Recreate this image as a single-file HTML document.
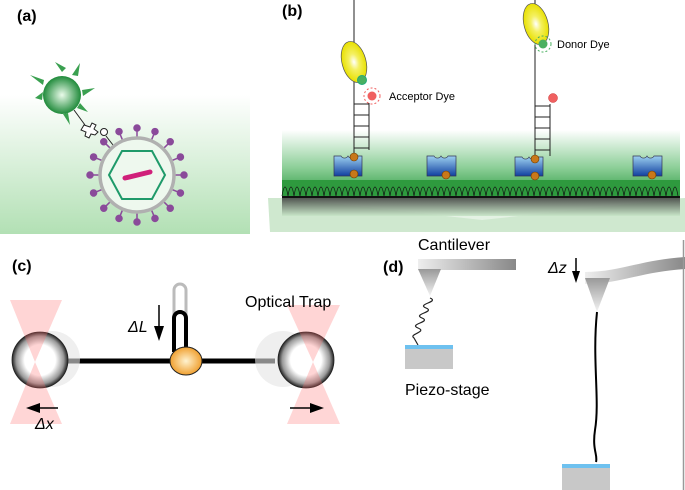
<!DOCTYPE html>
<html><head><meta charset="utf-8"><style>body{margin:0;background:#fff}svg{display:block}text{font-family:"Liberation Sans",sans-serif}</style></head><body>
<svg width="685" height="490" viewBox="0 0 685 490" xmlns="http://www.w3.org/2000/svg">
<defs>
<linearGradient id="ga" x1="0" y1="0" x2="0" y2="1"><stop offset="0" stop-color="#fff"/><stop offset="1" stop-color="#b2e0b4"/></linearGradient>
<linearGradient id="gb" x1="0" y1="0" x2="0" y2="1"><stop offset="0" stop-color="#fff"/><stop offset="0.55" stop-color="#8fd09a"/><stop offset="1" stop-color="#2a9a40"/></linearGradient>
<linearGradient id="gd" x1="0" y1="0" x2="0" y2="1"><stop offset="0" stop-color="#333"/><stop offset="1" stop-color="#c8e6c8"/></linearGradient>
<radialGradient id="sph" cx="0.5" cy="0.5" r="0.5"><stop offset="0" stop-color="#eafbea"/><stop offset="1" stop-color="#1f8a3a"/></radialGradient>
<radialGradient id="yel" cx="0.5" cy="0.5" r="0.5"><stop offset="0" stop-color="#fff"/><stop offset="0.4" stop-color="#f4f060"/><stop offset="1" stop-color="#e8e000"/></radialGradient>
<radialGradient id="bead" cx="0.5" cy="0.5" r="0.5"><stop offset="0.55" stop-color="#fff"/><stop offset="0.85" stop-color="#999"/><stop offset="1" stop-color="#222"/></radialGradient>
<radialGradient id="or" cx="0.5" cy="0.5" r="0.5"><stop offset="0" stop-color="#fff3d0"/><stop offset="1" stop-color="#f0a030"/></radialGradient>
<linearGradient id="blu" x1="0" y1="0" x2="0" y2="1"><stop offset="0" stop-color="#9cd0f0"/><stop offset="1" stop-color="#1040a0"/></linearGradient>
<linearGradient id="bar" x1="0" y1="0" x2="1" y2="0"><stop offset="0" stop-color="#eee"/><stop offset="1" stop-color="#888"/></linearGradient>
<linearGradient id="tip" x1="0" y1="0" x2="0" y2="1"><stop offset="0" stop-color="#999"/><stop offset="1" stop-color="#f4f4f4"/></linearGradient>
</defs>
<!-- (a) -->
<rect x="0" y="95" width="250" height="139" fill="url(#ga)"/>
<text x="17" y="21" font-size="16" font-weight="bold">(a)</text>
<g fill="#3aa050">
<polygon points="55,62 62,72 66,68"/><polygon points="80,63 72,75 78,76"/><polygon points="95,88 82,90 83,96"/><polygon points="88,112 80,103 77,108"/><polygon points="70,125 68,113 63,114"/><polygon points="35,98 43,92 42,100"/><polygon points="30,75 43,85 44,80"/>
</g>
<circle cx="62" cy="95" r="19" fill="url(#sph)"/>
<line x1="74" y1="110" x2="85" y2="125" stroke="#222"/>
<path d="M84,125 l6,2 l2,-4 l4,2 l-2,4 l4,3 l-3,3 l-4,-1 l-2,4 l-4,-2 l1,-4 l-5,-2z" fill="#fff" stroke="#222"/>
<circle cx="104" cy="132" r="3.5" fill="#fff" stroke="#222"/>
<line x1="106" y1="136" x2="113" y2="145" stroke="#222"/>
<g stroke="#8a4a9a" stroke-width="1.5" fill="#8a4a9a">
<g transform="translate(137,175)">
<g id="s1"><line x1="0" y1="-37" x2="0" y2="-45"/><circle cx="0" cy="-47" r="3"/></g>
<use href="#s1" transform="rotate(22.5)"/><use href="#s1" transform="rotate(45)"/><use href="#s1" transform="rotate(67.5)"/><use href="#s1" transform="rotate(90)"/><use href="#s1" transform="rotate(112.5)"/><use href="#s1" transform="rotate(135)"/><use href="#s1" transform="rotate(157.5)"/><use href="#s1" transform="rotate(180)"/><use href="#s1" transform="rotate(202.5)"/><use href="#s1" transform="rotate(225)"/><use href="#s1" transform="rotate(247.5)"/><use href="#s1" transform="rotate(270)"/><use href="#s1" transform="rotate(292.5)"/><use href="#s1" transform="rotate(315)"/><use href="#s1" transform="rotate(337.5)"/>
</g></g>
<circle cx="137" cy="175" r="37" fill="#eef8ee" stroke="#b0b0b0" stroke-width="3.5"/>
<polygon points="109,175 122,151 152,151 165,175 152,199 122,199" fill="none" stroke="#1f9a6a" stroke-width="2"/>
<line x1="125" y1="178" x2="150" y2="172" stroke="#d0207a" stroke-width="5" stroke-linecap="round"/>
<!-- (b) -->
<polygon points="268,198 685,198 685,232 270,232" fill="#cfe8cf"/>
<polygon points="282,198 685,198 482,220" fill="#e4f2e4"/>
<rect x="282" y="130" width="398" height="67" fill="url(#gb)"/>
<rect x="282" y="180" width="398" height="17" fill="#2e9a3e"/>
<rect x="282" y="196" width="398" height="20" fill="url(#gd)" opacity="0.9"/>
<path id="gr" d="M282,196 q3,-18 6,0 q3,-18 6,0 q3,-18 6,0 q3,-18 6,0 q3,-18 6,0 q3,-18 6,0 q3,-18 6,0 q3,-18 6,0 q3,-18 6,0 q3,-18 6,0 q3,-18 6,0 q3,-18 6,0 q3,-18 6,0 q3,-18 6,0 q3,-18 6,0 q3,-18 6,0 q3,-18 6,0 q3,-18 6,0 q3,-18 6,0 q3,-18 6,0 q3,-18 6,0 q3,-18 6,0 q3,-18 6,0 q3,-18 6,0 q3,-18 6,0 q3,-18 6,0 q3,-18 6,0 q3,-18 6,0 q3,-18 6,0 q3,-18 6,0 q3,-18 6,0 q3,-18 6,0 q3,-18 6,0 q3,-18 6,0 q3,-18 6,0 q3,-18 6,0 q3,-18 6,0 q3,-18 6,0 q3,-18 6,0 q3,-18 6,0 q3,-18 6,0 q3,-18 6,0 q3,-18 6,0 q3,-18 6,0 q3,-18 6,0 q3,-18 6,0 q3,-18 6,0 q3,-18 6,0 q3,-18 6,0 q3,-18 6,0 q3,-18 6,0 q3,-18 6,0 q3,-18 6,0 q3,-18 6,0 q3,-18 6,0 q3,-18 6,0 q3,-18 6,0 q3,-18 6,0 q3,-18 6,0 q3,-18 6,0 q3,-18 6,0 q3,-18 6,0 q3,-18 6,0 q3,-18 6,0 q3,-18 6,0 q3,-18 6,0" fill="none" stroke="#111" stroke-width="0.7"/>
<line x1="282" y1="197" x2="680" y2="197" stroke="#111" stroke-width="2"/>
<text x="282" y="16" font-size="16" font-weight="bold">(b)</text>
<line x1="354" y1="0" x2="354" y2="155" stroke="#222"/>
<line x1="535" y1="0" x2="535" y2="157" stroke="#222"/>
<g stroke="#222"><line x1="369" y1="103" x2="369" y2="150"/><line x1="354" y1="104" x2="369" y2="104"/><line x1="354" y1="115" x2="369" y2="115"/><line x1="354" y1="126" x2="369" y2="126"/><line x1="354" y1="137" x2="369" y2="137"/><line x1="354" y1="148" x2="369" y2="148"/>
<line x1="550" y1="104" x2="550" y2="156"/><line x1="535" y1="106" x2="550" y2="106"/><line x1="535" y1="117" x2="550" y2="117"/><line x1="535" y1="128" x2="550" y2="128"/><line x1="535" y1="139" x2="550" y2="139"/><line x1="535" y1="150" x2="550" y2="150"/></g>
<ellipse cx="354" cy="62" rx="12" ry="21" transform="rotate(-15 354 62)" fill="url(#yel)" stroke="#555" stroke-width="0.7"/>
<ellipse cx="536" cy="24" rx="12" ry="21" transform="rotate(-15 536 24)" fill="url(#yel)" stroke="#555" stroke-width="0.7"/>
<circle cx="362" cy="80" r="4.5" fill="#4ab060" stroke="#2a7"/>
<circle cx="372" cy="96" r="4.5" fill="#f06060"/><circle cx="372" cy="96" r="8" fill="none" stroke="#f06060" stroke-dasharray="2 2"/>
<circle cx="543" cy="44" r="4.5" fill="#4ab060"/><circle cx="543" cy="44" r="8" fill="none" stroke="#4ab060" stroke-dasharray="2 2"/>
<circle cx="553" cy="98" r="4.5" fill="#f06060" stroke="#c33" stroke-width="0.5"/>
<text x="389" y="100" font-size="11">Acceptor Dye</text>
<text x="557" y="48" font-size="11">Donor Dye</text>
<g stroke="#335" stroke-width="0.7">
<path d="M334,156 h7 a4,4 0 0 0 7,0 a4,4 0 0 0 7,0 h7 v20 h-28z" fill="url(#blu)"/>
<path d="M427,156 h7 a4,4 0 0 0 7,0 a4,4 0 0 0 7,0 h8 v20 h-29z" fill="url(#blu)"/>
<path d="M515,157 h7 a4,4 0 0 0 7,0 a4,4 0 0 0 7,0 h7 v19 h-28z" fill="url(#blu)"/>
<path d="M633,156 h7 a4,4 0 0 0 7,0 a4,4 0 0 0 7,0 h8 v20 h-29z" fill="url(#blu)"/>
</g>
<g fill="#c8781a" stroke="#6a3a00" stroke-width="0.6"><circle cx="354" cy="157" r="4"/><circle cx="354" cy="174" r="4"/><circle cx="446" cy="175" r="4"/><circle cx="535" cy="159" r="4"/><circle cx="535" cy="176" r="4"/><circle cx="652" cy="175" r="4"/></g>
<!-- (c) -->
<text x="12" y="271" font-size="16" font-weight="bold">(c)</text>
<line x1="65" y1="361" x2="275" y2="361" stroke="#000" stroke-width="5"/>
<circle cx="52" cy="359" r="28" fill="#e4e4e4" opacity="0.6"/>
<circle cx="40" cy="360" r="28" fill="url(#bead)" stroke="#222" stroke-width="0.8"/>
<circle cx="283" cy="359" r="28" fill="#e4e4e4" opacity="0.6"/>
<circle cx="306" cy="360" r="28" fill="url(#bead)" stroke="#222" stroke-width="0.8"/>
<g fill="#ff6a6a" opacity="0.28"><polygon points="10,300 62,300 35,362"/><polygon points="10,424 62,424 35,362"/><polygon points="287,305 340,305 313,362"/><polygon points="287,424 340,424 313,362"/></g>
<path d="M174,350 V290 a6,6 0 0 1 12,0 V330" fill="none" stroke="#bbb" stroke-width="3"/>
<path d="M174,352 V318 a6,6 0 0 1 12,0 V352" fill="none" stroke="#000" stroke-width="4"/>
<ellipse cx="186" cy="361" rx="16" ry="14" fill="url(#or)" stroke="#222"/>
<text x="128" y="332" font-size="16" font-style="italic">ΔL</text>
<line x1="159" y1="305" x2="159" y2="328" stroke="#000" stroke-width="1.5"/><polygon points="154,326 164,326 159,341"/>
<text x="245" y="307" font-size="16">Optical Trap</text>
<line x1="58" y1="408" x2="38" y2="408" stroke="#000" stroke-width="1.5"/><polygon points="26,408 40,403 40,413"/>
<line x1="290" y1="408" x2="312" y2="408" stroke="#000" stroke-width="1.5"/><polygon points="324,408 310,403 310,413"/>
<text x="35" y="429" font-size="16" font-style="italic">Δx</text>
<!-- (d) -->
<text x="383" y="272" font-size="16" font-weight="bold">(d)</text>
<text x="418" y="250" font-size="16">Cantilever</text>
<rect x="418" y="259" width="98" height="11" fill="url(#bar)"/>
<polygon points="418,269 441,269 430,296" fill="url(#tip)"/>
<path d="M430,298 c10,4 -14,6 -4,10 c10,4 -14,6 -4,10 c10,4 -14,6 -4,10 c10,4 -10,6 -4,10 l4,7" fill="none" stroke="#222" stroke-width="1.2"/>
<rect x="405" y="345" width="48" height="4" fill="#6ec1ef"/>
<rect x="405" y="349" width="48" height="20" fill="#c8c8c8"/>
<text x="405" y="395" font-size="16">Piezo-stage</text>
<text x="548" y="273" font-size="16" font-style="italic">Δz</text>
<line x1="576" y1="258" x2="576" y2="272" stroke="#000" stroke-width="1.5"/><polygon points="572,271 580,271 576,283"/>
<path d="M585,272 C620,272 640,260 685,257 L685,269 C640,272 620,284 585,284z" fill="url(#bar)"/>
<polygon points="585,278 610,278 597,312" fill="url(#tip)"/>
<path d="M597,312 C592,360 600,400 595,430 C592,450 598,455 596,462" fill="none" stroke="#000" stroke-width="2"/>
<rect x="562" y="464" width="48" height="4" fill="#6ec1ef"/>
<rect x="562" y="468" width="48" height="22" fill="#c8c8c8"/>
<line x1="683.5" y1="240" x2="683.5" y2="490" stroke="#999" stroke-width="1.5"/>
</svg>
</body></html>
